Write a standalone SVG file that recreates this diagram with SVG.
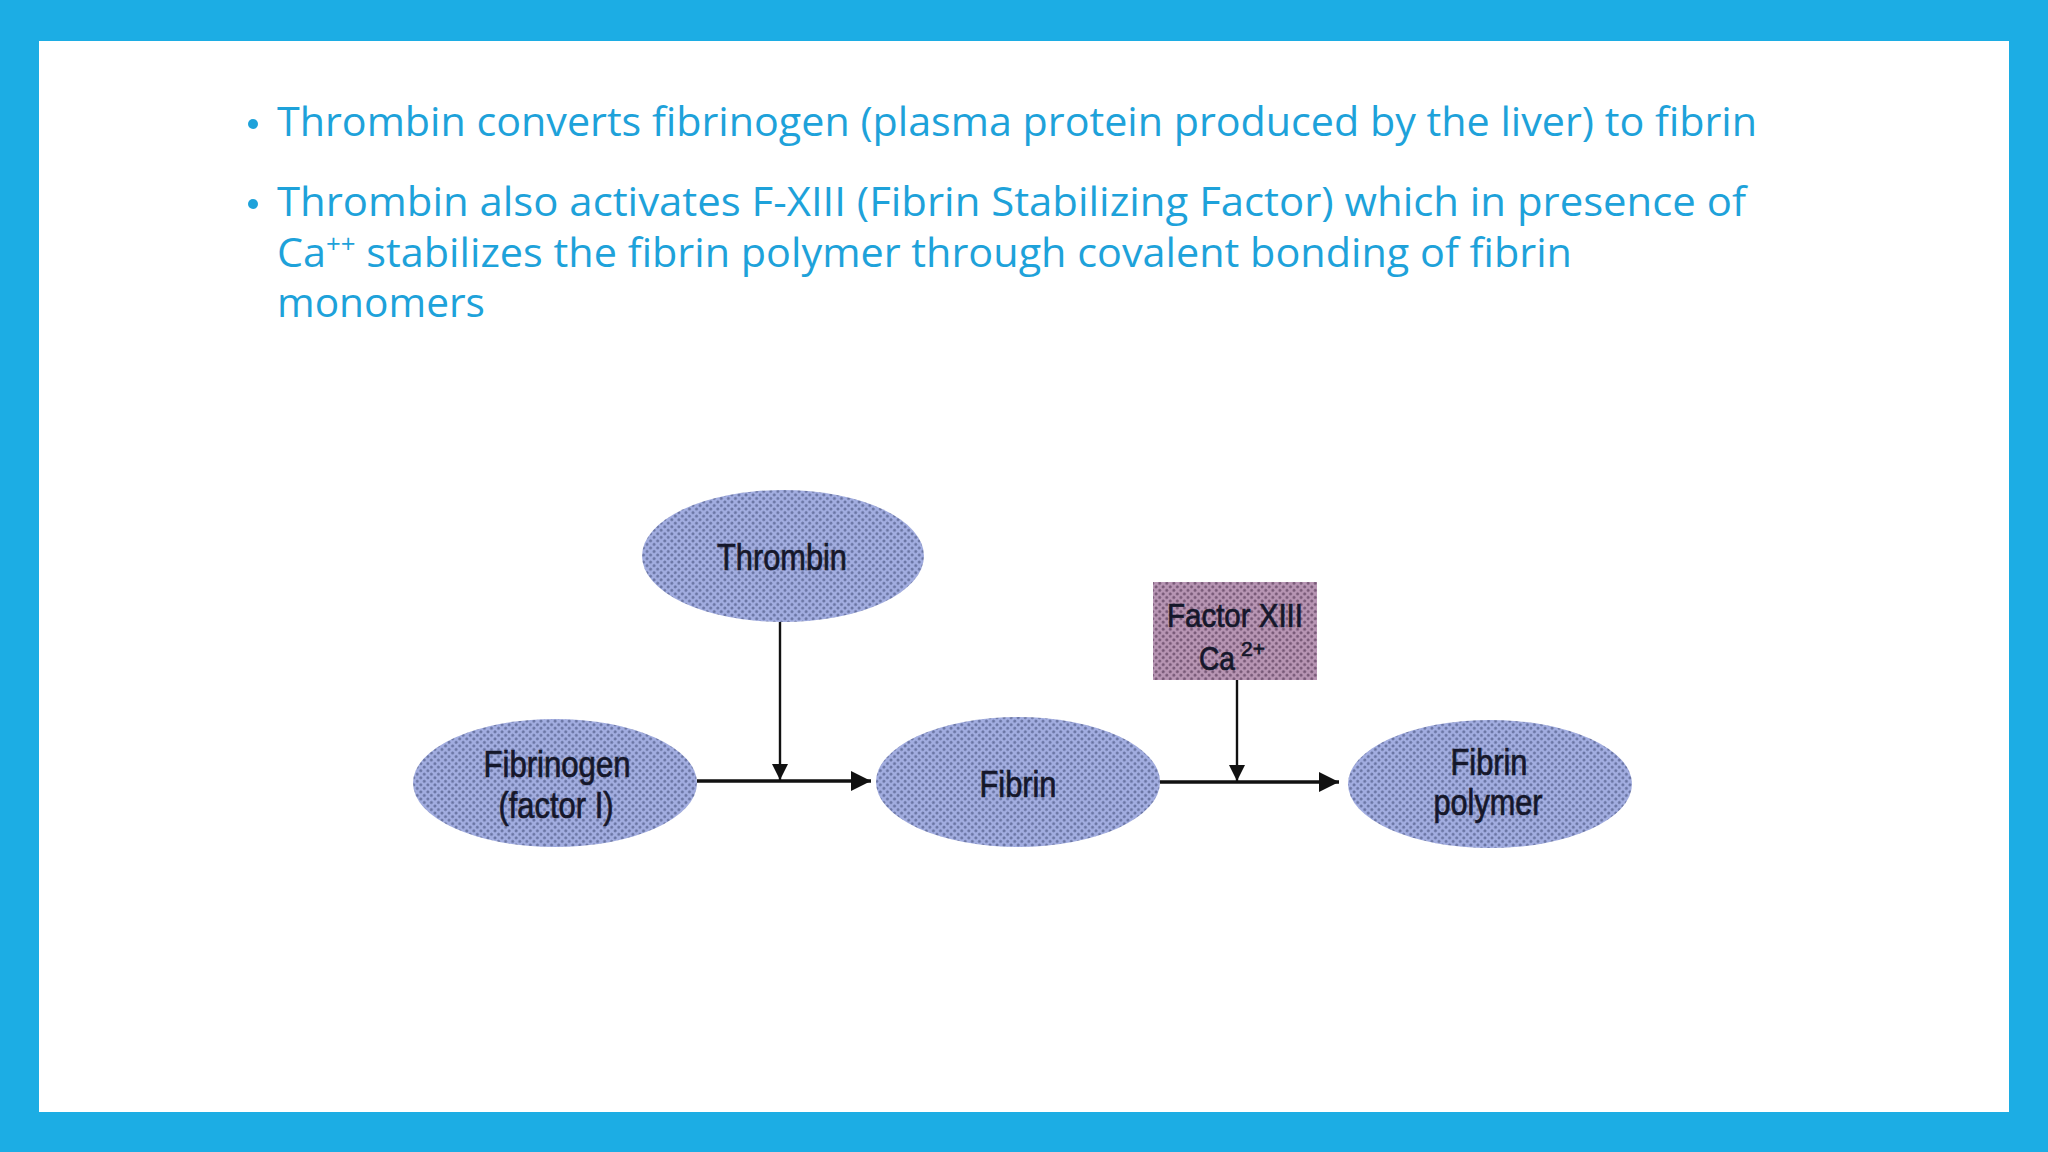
<svg xmlns="http://www.w3.org/2000/svg" width="2048" height="1152" viewBox="0 0 2048 1152">
  <style>
    .bullet { font-family: "Open Sans", "Noto Sans", sans-serif; font-size: 40px; fill: #1EA2DA; }
    .lbl { font-family: "Liberation Sans", Arial, sans-serif; font-size: 36px; fill: #15172A; stroke: #15172A; stroke-width: 0.7; text-anchor: middle; }
    .box { font-size: 33px; }
    .conn { stroke: #111111; fill: none; }
  </style>
  <defs>
    <pattern id="dotsBlue" width="5" height="5" patternUnits="userSpaceOnUse" patternTransform="rotate(45)">
      <rect width="5" height="5" fill="#A2ADE0"/>
      <circle cx="2.5" cy="2.5" r="1.4" fill="#66719F"/>
    </pattern>
    <pattern id="dotsMauve" width="5" height="5" patternUnits="userSpaceOnUse" patternTransform="rotate(45)">
      <rect width="5" height="5" fill="#B795B3"/>
      <circle cx="2.5" cy="2.5" r="1.4" fill="#735472"/>
    </pattern>
    <marker id="arrow" viewBox="0 0 10 10" refX="10" refY="5" markerWidth="16" markerHeight="16" markerUnits="userSpaceOnUse" orient="auto">
      <path d="M0,0 L10,5 L0,10 Z" fill="#111111"/>
    </marker>
    <marker id="arrowBig" viewBox="0 0 10 10" refX="10" refY="5" markerWidth="20" markerHeight="20" markerUnits="userSpaceOnUse" orient="auto">
      <path d="M0,0 L10,5 L0,10 Z" fill="#111111"/>
    </marker>
  </defs>

  <rect x="0" y="0" width="2048" height="1152" fill="#1CADE4"/>
  <rect x="39" y="41" width="1970" height="1071" fill="#FFFFFF"/>

  <g id="text">
    <circle cx="253" cy="124" r="5" fill="#1EA2DA"/>
    <text class="bullet" x="277" y="136" textLength="1480" lengthAdjust="spacingAndGlyphs">Thrombin converts fibrinogen (plasma protein produced by the liver) to fibrin</text>
    <circle cx="253" cy="204" r="5" fill="#1EA2DA"/>
    <text class="bullet" x="277" y="216" textLength="1469" lengthAdjust="spacingAndGlyphs">Thrombin also activates F-XIII (Fibrin Stabilizing Factor) which in presence of</text>
    <text class="bullet" x="277" y="267" textLength="1295" lengthAdjust="spacingAndGlyphs">Ca<tspan dy="-14" font-size="25">++</tspan><tspan dy="14"> stabilizes the fibrin polymer through covalent bonding of fibrin</tspan></text>
    <text class="bullet" x="277" y="317" textLength="208" lengthAdjust="spacingAndGlyphs">monomers</text>
  </g>

  <g id="connectors">
    <line class="conn" x1="697" y1="781" x2="871" y2="781" stroke-width="3.5" marker-end="url(#arrowBig)"/>
    <line class="conn" x1="780" y1="622" x2="780" y2="780" stroke-width="2.4" marker-end="url(#arrow)"/>
    <line class="conn" x1="1160" y1="782" x2="1339" y2="782" stroke-width="3.5" marker-end="url(#arrowBig)"/>
    <line class="conn" x1="1237" y1="680" x2="1237" y2="781" stroke-width="2.4" marker-end="url(#arrow)"/>
  </g>

  <g id="node-thrombin">
    <ellipse cx="783" cy="556" rx="141" ry="66" fill="url(#dotsBlue)"/>
    <text class="lbl" x="782" y="570" textLength="130" lengthAdjust="spacingAndGlyphs">Thrombin</text>
  </g>
  <g id="node-fibrinogen">
    <ellipse cx="555" cy="783" rx="142" ry="64" fill="url(#dotsBlue)"/>
    <text class="lbl" x="557" y="777" textLength="147" lengthAdjust="spacingAndGlyphs">Fibrinogen</text>
    <text class="lbl" x="556" y="818" textLength="115" lengthAdjust="spacingAndGlyphs">(factor I)</text>
  </g>
  <g id="node-fibrin">
    <ellipse cx="1018" cy="782" rx="142" ry="65" fill="url(#dotsBlue)"/>
    <text class="lbl" x="1018" y="797" textLength="77" lengthAdjust="spacingAndGlyphs">Fibrin</text>
  </g>
  <g id="node-factor13">
    <rect x="1153" y="582" width="164" height="98" fill="url(#dotsMauve)"/>
    <text class="lbl box" x="1235" y="627" textLength="136" lengthAdjust="spacingAndGlyphs">Factor XIII</text>
    <text class="lbl box" x="1235" y="670" style="text-anchor:end" textLength="36" lengthAdjust="spacingAndGlyphs">Ca</text>
    <text class="lbl" x="1241" y="656" style="text-anchor:start; font-size:21px">2+</text>
  </g>
  <g id="node-polymer">
    <ellipse cx="1490" cy="784" rx="142" ry="64" fill="url(#dotsBlue)"/>
    <text class="lbl" x="1489" y="775" textLength="77" lengthAdjust="spacingAndGlyphs">Fibrin</text>
    <text class="lbl" x="1488" y="815" textLength="109" lengthAdjust="spacingAndGlyphs">polymer</text>
  </g>
</svg>
